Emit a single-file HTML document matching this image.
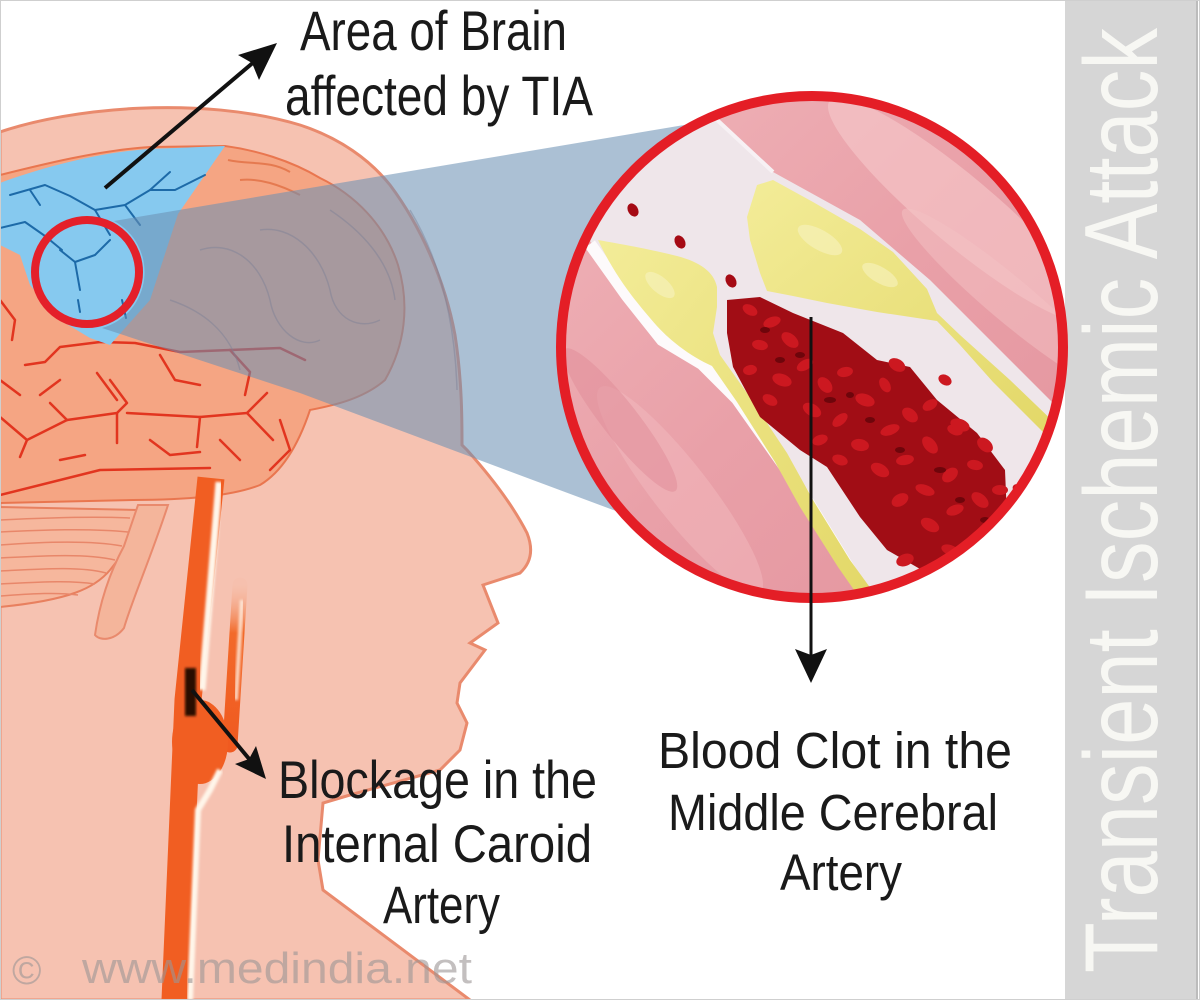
<!DOCTYPE html>
<html>
<head>
<meta charset="utf-8">
<style>
html,body{margin:0;padding:0;background:#fff;}
svg{display:block;}
text{font-family:"Liberation Sans",Arial,sans-serif;}
</style>
</head>
<body>
<svg width="1200" height="1000" viewBox="0 0 1200 1000" xmlns="http://www.w3.org/2000/svg">
<defs>
  <clipPath id="bc"><circle cx="812" cy="347" r="248"/></clipPath>
  <linearGradient id="tissue" x1="0" y1="0" x2="1" y2="1">
    <stop offset="0" stop-color="#f0b4b9"/>
    <stop offset="0.5" stop-color="#e9a0a8"/>
    <stop offset="1" stop-color="#e3939d"/>
  </linearGradient>
  <linearGradient id="ext" x1="0" y1="0" x2="0" y2="1">
    <stop offset="0" stop-color="#f6b9a0" stop-opacity="0.2"/>
    <stop offset="0.3" stop-color="#f26a2a"/>
    <stop offset="1" stop-color="#f05a20"/>
  </linearGradient>
  <linearGradient id="yel" x1="0" y1="0" x2="1" y2="1">
    <stop offset="0" stop-color="#f3ec98"/>
    <stop offset="1" stop-color="#e2d766"/>
  </linearGradient>
  <filter id="bl1"><feGaussianBlur stdDeviation="1.2"/></filter>
</defs>

<!-- background -->
<rect x="0" y="0" width="1200" height="1000" fill="#ffffff"/>

<!-- right gray bar -->
<rect x="1065" y="0" width="132" height="1000" fill="#d6d6d6"/>
<rect x="1196" y="0" width="2" height="1000" fill="#bcbcbc"/>
<text transform="translate(1157,973) rotate(-90)" font-size="104" fill="#f7f7f3" textLength="945" lengthAdjust="spacingAndGlyphs">Transient Ischemic Attack</text>

<!-- head -->
<path d="M0,132 C70,108 200,95 300,125 C340,138 370,160 390,185 C420,225 445,280 455,335 C462,380 462,420 462,445 L467,450 C485,470 510,500 527,533 C533,548 532,562 520,573 L483,585 L498,623 L470,643 L485,650 L460,683 L457,703 L467,723 L460,750 L440,770 L350,795 L323,803 L318,860 L323,890 L470,1000 L0,1000 Z" fill="#f6c2b1" stroke="#e98a6d" stroke-width="3"/>

<!-- brain -->
<path d="M0,175 C40,165 100,150 150,147 L225,146 C255,150 290,160 320,178 C355,195 385,225 398,265 C410,305 405,345 385,380 C362,400 330,406 310,410 C300,440 285,470 260,485 C230,497 180,500 133,500 L0,503 Z" fill="#f5a583" stroke="#e9764f" stroke-width="2"/>
<!-- cerebellum -->
<path d="M0,507 L137,510 C132,535 125,552 110,570 C95,588 70,600 0,607 Z" fill="#f6b79d" stroke="#e8805f" stroke-width="2"/>
<g stroke="#e8876a" stroke-width="1.5" fill="none">
  <path d="M0,520 C40,518 90,516 130,518"/>
  <path d="M0,532 C40,530 90,528 128,532"/>
  <path d="M0,545 C40,542 90,540 122,546"/>
  <path d="M0,558 C40,556 85,553 115,560"/>
  <path d="M0,571 C40,569 80,566 106,573"/>
  <path d="M0,584 C40,582 70,580 95,584"/>
  <path d="M0,596 C30,594 55,592 78,595"/>
</g>
<!-- brainstem -->
<path d="M138,505 L168,505 C150,560 132,600 124,628 C114,641 100,641 95,635 C100,600 110,572 124,546 Z" fill="#f4b59b" stroke="#e98a6d" stroke-width="2"/>

<!-- brain vessels -->
<g stroke="#e2351f" stroke-width="2.5" fill="none" stroke-linecap="round" stroke-linejoin="round">
  <path d="M25,365 L45,362 L60,347 L100,342 L135,343 L180,352 L230,350 L280,348 L305,360"/>
  <path d="M0,417 L27,440 L20,457"/>
  <path d="M27,440 L67,420 L117,413 L127,403 L110,380"/>
  <path d="M117,413 L117,443"/>
  <path d="M67,420 L50,403"/>
  <path d="M127,413 L200,417 L247,413 L267,393"/>
  <path d="M200,417 L197,447"/>
  <path d="M0,495 L100,470 L210,468"/>
  <path d="M247,413 L273,440"/>
  <path d="M97,373 L117,400"/>
  <path d="M160,355 L175,380 L200,385"/>
  <path d="M230,350 L250,372 L245,395"/>
  <path d="M0,300 L15,320 L12,340"/>
  <path d="M40,395 L60,380"/>
  <path d="M150,440 L170,455 L200,452"/>
  <path d="M60,460 L85,455"/>
  <path d="M280,420 L290,450 L270,470"/>
  <path d="M0,380 L20,395"/>
  <path d="M220,440 L240,460"/>
</g>
<g stroke="#e57a50" stroke-width="2" fill="none">
  <path d="M228,160 C250,165 270,160 290,172"/>
  <path d="M240,180 C260,178 280,185 300,195"/>
</g>

<!-- blue affected region -->
<path d="M0,183 C40,168 100,152 150,149 L225,146 L178,214 L150,300 L110,345 L90,338 L60,320 L30,285 L20,255 L0,245 Z" fill="#86c9ef"/>
<circle cx="87" cy="272" r="50" fill="#86c9ef"/>
<g stroke="#1d6aa8" stroke-width="2" fill="none" stroke-linecap="round" stroke-linejoin="round">
  <path d="M0,228 L25,222 L45,236 L62,250"/>
  <path d="M10,195 L45,185 L70,196 L95,210 L125,205 L150,190 L170,172"/>
  <path d="M95,210 L110,235"/>
  <path d="M125,205 L140,225"/>
  <path d="M150,190 L175,190 L205,175"/>
  <path d="M60,250 L75,262 L80,290"/>
  <path d="M75,262 L95,255 L110,240"/>
  <path d="M122,300 L126,318"/>
  <path d="M78,300 L80,312"/>
  <path d="M30,190 L40,205"/>
</g>

<!-- carotid arteries -->
<path d="M240,585 L230,745" stroke="url(#ext)" stroke-width="15" fill="none" stroke-linecap="round"/>
<path d="M242,600 L236,700" stroke="#fff3e6" stroke-width="4" fill="none" opacity="0.8" filter="url(#bl1)"/>
<path d="M211,478 L188,700 L175,1000" stroke="#f15e22" stroke-width="27" fill="none"/>
<ellipse cx="200" cy="742" rx="28" ry="42" fill="#f15e22"/>
<path d="M219,482 L202,690" stroke="#fff6ea" stroke-width="7" fill="none" filter="url(#bl1)"/>
<path d="M220,770 L210,790 L198,810 L190,1000" stroke="#fff6ea" stroke-width="6" fill="none" filter="url(#bl1)"/>
<rect x="185" y="668" width="11" height="48" fill="#2a0e06" filter="url(#bl1)"/>

<!-- gray cone -->
<path d="M114,221 L690,124 L812,347 L640,520 L300,393 L102,328 A58,58 0 0 0 114,221 Z" fill="rgb(108,145,180)" fill-opacity="0.57"/>
<g stroke="#7d8096" stroke-width="1.5" fill="none" opacity="0.45">
  <path d="M200,250 C230,240 260,260 270,300 C275,330 300,350 320,340"/>
  <path d="M260,230 C290,225 320,250 330,290 C335,320 360,330 380,320"/>
  <path d="M330,210 C360,230 390,260 395,300"/>
  <path d="M170,300 C200,310 230,330 240,370"/>
  <path d="M410,210 C440,260 455,320 457,390"/>
</g>

<!-- small circle -->
<circle cx="87" cy="272" r="52" fill="none" stroke="#e4202a" stroke-width="8"/>

<!-- big circle interior -->
<g clip-path="url(#bc)">
  <rect x="550" y="90" width="530" height="520" fill="url(#tissue)"/>
  <ellipse cx="960" cy="210" rx="170" ry="34" transform="rotate(40 960 210)" fill="#f6c9cb" opacity="0.6"/>
  <ellipse cx="1010" cy="300" rx="140" ry="22" transform="rotate(40 1010 300)" fill="#f4c1c4" opacity="0.5"/>
  <ellipse cx="680" cy="490" rx="130" ry="28" transform="rotate(52 680 490)" fill="#f3bcc0" opacity="0.45"/>
  <ellipse cx="620" cy="420" rx="90" ry="18" transform="rotate(52 620 420)" fill="#df8c97" opacity="0.5"/>

  <!-- artery wall -->
  <path d="M680,80 L715,118 L773,172 L860,220 L930,280 L1060,410 L1100,450 L920,650 L875,608 L795,478 L735,393 L700,358 L660,335 L625,290 L588,238 L560,200 Z" fill="#efe6ea"/>
  <path d="M590,244 L627,296 L662,340 L702,364 L737,399 L797,484 L877,614" stroke="#fdfafb" stroke-width="12" fill="none"/>
  <path d="M715,118 L773,172" stroke="#f7f1f4" stroke-width="4" fill="none"/>

  <!-- upper plaque -->
  <path d="M757,185 L773,180 L813,202 L860,229 L893,252 L927,289 L937,313 L960,335 L1010,380 L1060,428 L1062,442 L1043,432 L993,382 L960,345 L937,321 L877,312 L827,303 L793,296 L767,291 L760,273 L750,240 L747,217 Z" fill="url(#yel)"/>
  <!-- lower plaque -->
  <path d="M598,240 C620,244 645,248 677,256 C700,262 714,272 717,287 L717,307 L713,333 L720,355 L747,393 L787,453 L813,500 L850,560 L882,604 L868,610 L838,567 L800,507 L775,462 L737,402 L712,366 C690,356 668,340 650,318 C630,295 612,270 598,240 Z" fill="url(#yel)"/>
  <g fill="#f8f3c0" opacity="0.6">
    <ellipse cx="820" cy="240" rx="25" ry="10" transform="rotate(30 820 240)"/>
    <ellipse cx="880" cy="275" rx="20" ry="8" transform="rotate(30 880 275)"/>
    <ellipse cx="660" cy="285" rx="18" ry="8" transform="rotate(40 660 285)"/>
  </g>

  <!-- clot -->
  <path d="M727,300 L760,297 L793,313 L843,333 L877,360 L910,367 L937,400 L977,433 L1005,470 L1007,517 L993,533 L960,567 L927,573 L887,550 L860,517 L827,467 L800,450 L760,417 L733,367 L727,333 Z" fill="#a10d15"/>
  <g fill="#cc1820">
    <ellipse cx="750" cy="310" rx="8" ry="5" transform="rotate(30 750 310)"/>
    <ellipse cx="772" cy="322" rx="9" ry="5" transform="rotate(-20 772 322)"/>
    <ellipse cx="790" cy="340" rx="10" ry="6" transform="rotate(40 790 340)"/>
    <ellipse cx="760" cy="345" rx="8" ry="5" transform="rotate(10 760 345)"/>
    <ellipse cx="805" cy="365" rx="9" ry="5" transform="rotate(-30 805 365)"/>
    <ellipse cx="782" cy="380" rx="10" ry="6" transform="rotate(20 782 380)"/>
    <ellipse cx="825" cy="385" rx="9" ry="6" transform="rotate(50 825 385)"/>
    <ellipse cx="845" cy="372" rx="8" ry="5" transform="rotate(-10 845 372)"/>
    <ellipse cx="812" cy="410" rx="10" ry="6" transform="rotate(30 812 410)"/>
    <ellipse cx="840" cy="420" rx="9" ry="5" transform="rotate(-40 840 420)"/>
    <ellipse cx="865" cy="400" rx="10" ry="6" transform="rotate(20 865 400)"/>
    <ellipse cx="885" cy="385" rx="8" ry="5" transform="rotate(60 885 385)"/>
    <ellipse cx="860" cy="445" rx="9" ry="6" transform="rotate(10 860 445)"/>
    <ellipse cx="890" cy="430" rx="10" ry="5" transform="rotate(-20 890 430)"/>
    <ellipse cx="910" cy="415" rx="9" ry="6" transform="rotate(40 910 415)"/>
    <ellipse cx="930" cy="405" rx="8" ry="5" transform="rotate(-30 930 405)"/>
    <ellipse cx="880" cy="470" rx="10" ry="6" transform="rotate(30 880 470)"/>
    <ellipse cx="905" cy="460" rx="9" ry="5" transform="rotate(-10 905 460)"/>
    <ellipse cx="930" cy="445" rx="10" ry="6" transform="rotate(50 930 445)"/>
    <ellipse cx="955" cy="430" rx="8" ry="5" transform="rotate(20 955 430)"/>
    <ellipse cx="900" cy="500" rx="9" ry="6" transform="rotate(-30 900 500)"/>
    <ellipse cx="925" cy="490" rx="10" ry="5" transform="rotate(20 925 490)"/>
    <ellipse cx="950" cy="475" rx="9" ry="6" transform="rotate(-40 950 475)"/>
    <ellipse cx="975" cy="465" rx="8" ry="5" transform="rotate(10 975 465)"/>
    <ellipse cx="930" cy="525" rx="10" ry="6" transform="rotate(30 930 525)"/>
    <ellipse cx="955" cy="510" rx="9" ry="5" transform="rotate(-20 955 510)"/>
    <ellipse cx="980" cy="500" rx="10" ry="6" transform="rotate(40 980 500)"/>
    <ellipse cx="1000" cy="490" rx="8" ry="5"/>
    <ellipse cx="950" cy="550" rx="9" ry="5" transform="rotate(20 950 550)"/>
    <ellipse cx="975" cy="540" rx="10" ry="6" transform="rotate(-30 975 540)"/>
    <ellipse cx="1000" cy="525" rx="9" ry="5" transform="rotate(30 1000 525)"/>
    <ellipse cx="840" cy="460" rx="8" ry="5" transform="rotate(20 840 460)"/>
    <ellipse cx="820" cy="440" rx="8" ry="5" transform="rotate(-20 820 440)"/>
    <ellipse cx="770" cy="400" rx="8" ry="5" transform="rotate(30 770 400)"/>
    <ellipse cx="750" cy="370" rx="7" ry="5" transform="rotate(-10 750 370)"/>
    <ellipse cx="897" cy="365" rx="9" ry="6" transform="rotate(30 897 365)"/>
    <ellipse cx="960" cy="425" rx="10" ry="6" transform="rotate(20 960 425)"/>
    <ellipse cx="985" cy="445" rx="9" ry="6" transform="rotate(40 985 445)"/>
    <ellipse cx="1012" cy="520" rx="9" ry="6" transform="rotate(20 1012 520)"/>
    <ellipse cx="905" cy="560" rx="9" ry="6" transform="rotate(-20 905 560)"/>
    <ellipse cx="1020" cy="490" rx="8" ry="5" transform="rotate(30 1020 490)"/>
    <ellipse cx="1030" cy="540" rx="8" ry="6" transform="rotate(10 1030 540)"/>
    <ellipse cx="945" cy="380" rx="7" ry="5" transform="rotate(30 945 380)"/>
  </g>
  <g fill="#6e050b">
    <ellipse cx="765" cy="330" rx="5" ry="3"/>
    <ellipse cx="800" cy="355" rx="5" ry="3"/>
    <ellipse cx="830" cy="400" rx="6" ry="3"/>
    <ellipse cx="870" cy="420" rx="5" ry="3"/>
    <ellipse cx="900" cy="450" rx="5" ry="3"/>
    <ellipse cx="940" cy="470" rx="6" ry="3"/>
    <ellipse cx="960" cy="500" rx="5" ry="3"/>
    <ellipse cx="985" cy="520" rx="5" ry="3"/>
    <ellipse cx="850" cy="395" rx="4" ry="3"/>
    <ellipse cx="780" cy="360" rx="5" ry="3"/>
  </g>
  <!-- drops -->
  <g fill="#a50a14">
    <ellipse cx="633" cy="210" rx="5" ry="7" transform="rotate(-30 633 210)"/>
    <ellipse cx="680" cy="242" rx="5" ry="7" transform="rotate(-30 680 242)"/>
    <ellipse cx="731" cy="281" rx="5" ry="7" transform="rotate(-30 731 281)"/>
  </g>
</g>
<!-- big circle ring -->
<circle cx="812" cy="347" r="251" fill="none" stroke="#e41e26" stroke-width="10"/>

<!-- arrows -->
<g fill="#111" stroke="none">
  <line x1="105" y1="188" x2="255" y2="61" stroke="#111" stroke-width="4"/>
  <path d="M277,43 L259,80 L252,63 L238,55 Z"/>
  <line x1="811" y1="317" x2="811" y2="660" stroke="#111" stroke-width="3"/>
  <path d="M795,649 L811,655 L827,649 L811,683 Z"/>
  <line x1="192" y1="690" x2="250" y2="760" stroke="#111" stroke-width="4"/>
  <path d="M266,779 L256,746 L249,759 L235,764 Z"/>
</g>

<!-- labels -->
<g fill="#1a1a1a">
  <text x="300" y="50" font-size="56" textLength="267" lengthAdjust="spacingAndGlyphs">Area of Brain</text>
  <text x="285" y="115" font-size="56" textLength="308" lengthAdjust="spacingAndGlyphs">affected by TIA</text>
  <text x="658" y="768" font-size="51" textLength="354" lengthAdjust="spacingAndGlyphs">Blood Clot in the</text>
  <text x="668" y="830" font-size="51" textLength="330" lengthAdjust="spacingAndGlyphs">Middle Cerebral</text>
  <text x="780" y="890" font-size="51" textLength="122" lengthAdjust="spacingAndGlyphs">Artery</text>
  <text x="278" y="798" font-size="53" textLength="319" lengthAdjust="spacingAndGlyphs">Blockage in the</text>
  <text x="282" y="862" font-size="53" textLength="310" lengthAdjust="spacingAndGlyphs">Internal Caroid</text>
  <text x="383" y="923" font-size="53" textLength="117" lengthAdjust="spacingAndGlyphs">Artery</text>
</g>

<!-- watermark -->
<g fill="#9c9696" opacity="0.6">
  <text x="12" y="984" font-size="40">©</text>
  <text x="82" y="983" font-size="44" textLength="390" lengthAdjust="spacingAndGlyphs">www.medindia.net</text>
</g>

<!-- frame -->
<rect x="0.5" y="0.5" width="1199" height="999" fill="none" stroke="#cfcfcf" stroke-width="1"/>
</svg>
</body>
</html>
